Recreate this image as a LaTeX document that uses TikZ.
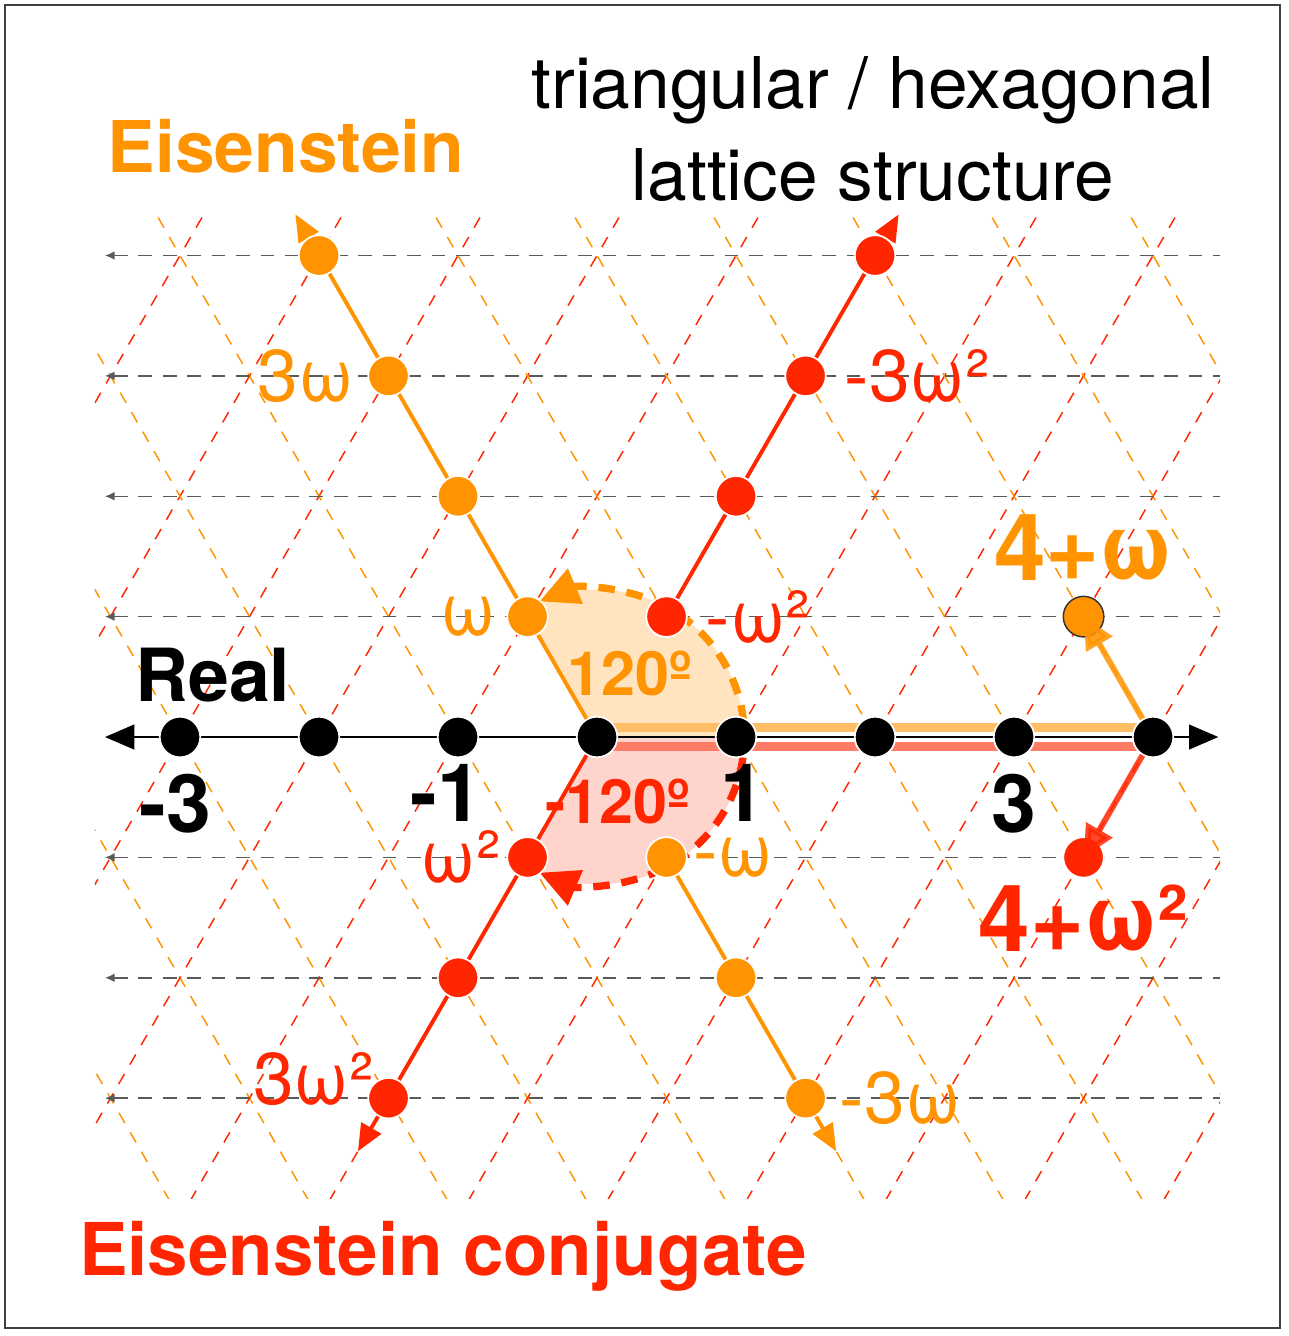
\documentclass[tikz,border=0pt]{standalone}
\usepackage{fontspec}
\setmainfont{TeX Gyre Heros}
\usetikzlibrary{arrows.meta, positioning, calc, backgrounds}

\definecolor{eorange}{RGB}{255,147,0}
\definecolor{ered}{RGB}{255,38,0}
\definecolor{gridgray}{RGB}{90,90,90}

\begin{document}
\begin{tikzpicture}[
  dot/.style={circle, inner sep=0pt, minimum size=8.3pt, draw=white, line width=0.35pt},
  bdot/.style={dot, fill=black},
  odot/.style={dot, fill=eorange},
  rdot/.style={dot, fill=ered},
  olatt/.style={eorange, line width=0.3pt, dash pattern=on 2.4pt off 2.2pt},
  rlatt/.style={ered, line width=0.3pt, dash pattern=on 2.4pt off 2.2pt},
  hlatt/.style={gridgray, line width=0.3pt, dash pattern=on 2.8pt off 2.2pt},
  oline/.style={eorange, line width=0.8pt},
  rline/.style={ered, line width=0.8pt},
  endtip/.style={-{Triangle[length=5.5pt, width=4.6pt]}},
  lbl/.style={inner sep=0.5pt, font=\fontsize{15}{18}\selectfont},
  numlbl/.style={inner sep=0pt, font=\fontsize{16.5}{20}\selectfont\bfseries},
  biglbl/.style={inner sep=1pt, font=\fontsize{19}{22}\selectfont\bfseries},
  anglbl/.style={anchor=base, inner sep=0pt, font=\fontsize{12.5}{15}\selectfont\bfseries},
]
  \useasboundingbox (-4.295,-4.309) rectangle (4.971,5.302);
  \draw[black!75, line width=0.4pt] (-4.259,-4.252) rectangle (4.914,5.266);

  % integers on the real axis
  \foreach \i/\nm in {-3/pm3,-2/pm2,-1/pm1,0/p0,1/p1,2/p2,3/p3,4/p4}
    \node[bdot] (\nm) at (\i,0) {};

  % multiples of omega and of -omega^2
  \foreach \k in {1,...,4} {
    \node[odot] (o\k) at ({-0.5*\k},{0.866*\k}) {};
    \node[rdot] (r\k) at ({0.5*\k},{0.866*\k}) {};
  }
  \foreach \k in {1,...,3} {
    \node[odot] (on\k) at ({0.5*\k},{-0.866*\k}) {};
    \node[rdot] (rn\k) at ({-0.5*\k},{-0.866*\k}) {};
  }

  % 4+w and 4+w^2
  \node[odot, draw=black!80, line width=0.3pt] (e1) at (3.5,0.866) {};
  \node[rdot] (e2) at (3.5,-0.866) {};

  \begin{scope}[on background layer]
    % triangular lattice
    \begin{scope}
      \clip (-3.612,-3.317) rectangle (4.482,3.770);
      \foreach \m in {-5,...,6} {
        \draw[olatt] (\m,0) ++(120:4.8) -- ++(-60:9.6);
        \draw[rlatt] (\m,0) ++(60:4.8) -- ++(-120:9.6);
      }
    \end{scope}
    \foreach \n in {-3,-2,-1,1,2,3,4}
      \draw[hlatt, {Latex[length=2pt, width=1.8pt]}-] (-3.54,{0.866*\n}) -- (4.48,{0.866*\n});

    % rotation sectors
    \fill[eorange!25] (p0.center) -- ++(0:1.06) arc[start angle=0, end angle=120, radius=1.06] -- cycle;
    \fill[ered!20] (p0.center) -- ++(0:1.06) arc[start angle=0, end angle=-120, radius=1.06] -- cycle;

    % highlight 0 -> 4
    \draw[eorange!60, line width=1.8pt] ([yshift=2pt]p0.center) -- ([yshift=2pt]p4.center);
    \draw[ered!60, line width=1.8pt] ([yshift=-2pt]p0.center) -- ([yshift=-2pt]p4.center);

    % real axis
    \coordinate (axL) at (-3.54,0);
    \coordinate (axR) at (4.47,0);
    \draw[line width=0.6pt, {Triangle[length=6pt, width=5pt]}-{Triangle[length=6pt, width=5pt]}] (axL) -- (axR);

    % omega and omega^2 directions
    \coordinate (otop) at (-2.17,3.76);
    \coordinate (obot) at (1.72,-2.98);
    \coordinate (rtop) at (2.17,3.76);
    \coordinate (rbot) at (-1.72,-2.98);
    \draw[oline, endtip] (p0.center) -- (o4.center) -- (otop);
    \draw[oline, endtip] (on1.center) -- (on3.center) -- (obot);
    \draw[rline, endtip] (p0.center) -- (rn3.center) -- (rbot);
    \draw[rline, endtip] (r1.center) -- (r4.center) -- (rtop);

    % +120 and -120 degree arcs
    \draw[eorange, line width=1.5pt, dash pattern=on 3.4pt off 2.4pt, -{Triangle[length=8pt, width=7.5pt]}]
      ($(p0.center)+(6:1.06)$) arc[start angle=6, end angle=113, radius=1.06];
    \draw[ered, line width=1.5pt, dash pattern=on 3.4pt off 2.4pt, -{Triangle[length=8pt, width=7.5pt]}]
      ($(p0.center)+(-8:1.06)$) arc[start angle=-8, end angle=-113, radius=1.06];
  \end{scope}

  % 4 -> 4+w, 4 -> 4+w^2
  \draw[eorange, opacity=0.85, line width=1.2pt, -{Triangle[length=6.5pt, width=6pt]}] (p4) -- (e1.center);
  \draw[ered, opacity=0.85, line width=1.2pt, -{Triangle[length=6.5pt, width=6pt]}] (p4) -- (e2.center);

  % labels
  \node[lbl, eorange, left=2pt of o3] (l3w) {3ω};
  \node[lbl, eorange, left=1.5pt of o1] (lw) {ω};
  \node[lbl, ered, right=3pt of r1] (lmw2) {-ω²};
  \node[lbl, ered, right=3pt of r3] (lm3w2) {-3ω²};
  \node[lbl, ered, left=0.5pt of rn1] (lw2) {ω²};
  \node[lbl, eorange, right=0.5pt of on1] (lmw) {-ω};
  \node[lbl, ered, left=-2pt of rn3, yshift=4pt] (l3w2) {3ω²};
  \node[lbl, eorange, right=2pt of on3] (lm3w) {-3ω};
  \node[biglbl, eorange, above=2pt of e1] (le1) {4+ω};
  \node[biglbl, ered, below=0pt of e2] (le2) {4+ω²};

  \node[numlbl, below=3pt of pm3, xshift=-1pt] (lm3) {-3};
  \node[numlbl, below=1pt of pm1, xshift=-2.4pt] (lm1) {-1};
  \node[numlbl, below=1pt of p1, xshift=1.5pt] (l1) {1};
  \node[numlbl, below=3pt of p3] (l3) {3};

  \node[anchor=base, font=\fontsize{15}{18}\selectfont\bfseries] (real) at (-2.763,0.252) {Real};
  \node[anglbl, eorange] (ang1) at (0.237,0.302) {120º};
  \node[anglbl, ered] (ang2) at (0.15,-0.619) {-120º};

  % titles
  \node[anchor=base, eorange, font=\fontsize{14.6}{18}\selectfont\bfseries] (ttl) at (-2.237,4.058) {Eisenstein};
  \node[anchor=base, font=\fontsize{14.6}{18}\selectfont] (sub1) at (1.986,4.525) {triangular / hexagonal};
  \node[anchor=base, font=\fontsize{14.6}{18}\selectfont] (sub2) at (1.986,3.863) {lattice structure};
  \node[anchor=base, ered, font=\fontsize{14.9}{18}\selectfont\bfseries] (ttl2) at (-1.108,-3.871) {Eisenstein conjugate};
\end{tikzpicture}
\end{document}
